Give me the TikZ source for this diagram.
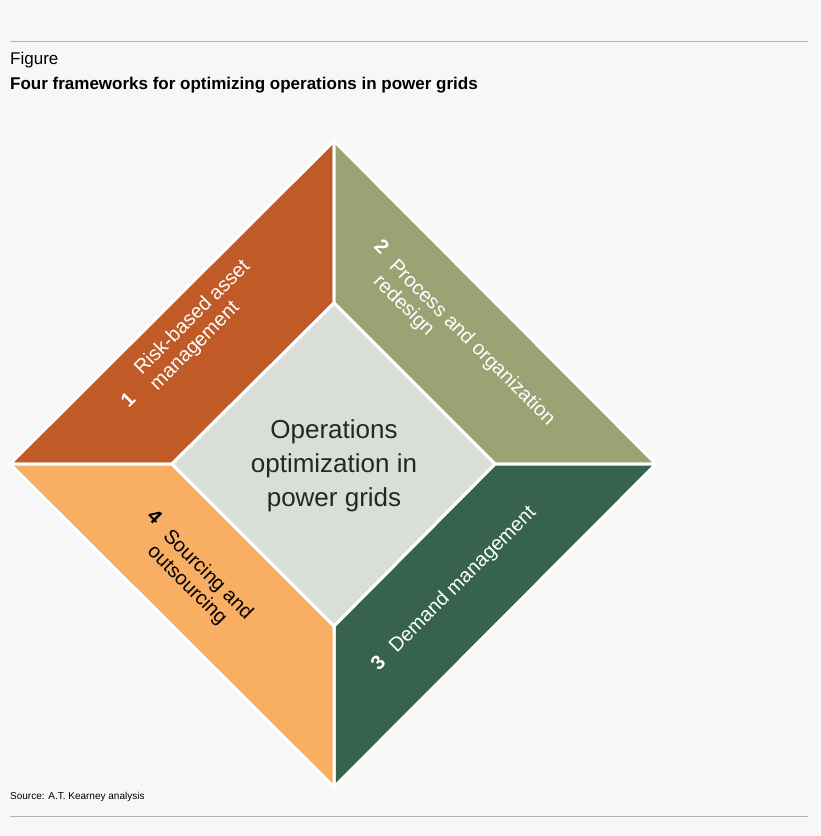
\documentclass[tikz,border=0pt]{standalone}
\usepackage{fontspec}
\setmainfont{Liberation Sans}
\begin{document}
\begin{tikzpicture}[x=1pt,y=-1pt,
  quad/.style={draw=white,line width=3pt,line join=miter},
  lab/.style={text=white,font=\fontsize{20}{22}\selectfont,align=left,inner sep=0pt},
  num/.style={text=white,font=\fontsize{20}{22}\selectfont\bfseries,inner sep=0pt}]
\definecolor{bg}{HTML}{F7F7F7}
\definecolor{qa}{HTML}{C05A26}
\definecolor{qb}{HTML}{9DA274}
\definecolor{qc}{HTML}{36624E}
\definecolor{qd}{HTML}{F9AF63}
\definecolor{qm}{HTML}{D9DFD7}
\fill[bg] (0,0) rectangle (820,836);
\useasboundingbox (0,0) rectangle (820,836);
\draw[gray!60,line width=0.8pt] (10,41) -- (808,41);
\draw[gray!60,line width=0.8pt] (10,816) -- (808,816);
\node[anchor=west,inner sep=0pt,font=\fontsize{17}{19}\selectfont] (fig) at (10,60) {Figure};
\node[anchor=west,inner sep=0pt,font=\fontsize{17}{19}\selectfont\bfseries] (title) at (10,85) {Four frameworks for optimizing operations in power grids};
\node[anchor=west,inner sep=0pt,font=\fontsize{10}{11}\selectfont] (src) at (10,797) {Source: A.T. Kearney analysis};
% quadrants
\fill[qa] (334,141) -- (334,303) -- (172,464) -- (10,464) -- cycle;
\draw[quad] (334,141) -- (334,303) -- (172,464) -- (10,464) -- cycle;
\fill[qb] (334,141) -- (656,464) -- (495,464) -- (334,303) -- cycle;
\draw[quad] (334,141) -- (656,464) -- (495,464) -- (334,303) -- cycle;
\fill[qc] (656,464) -- (334,787) -- (334,626) -- (495,464) -- cycle;
\draw[quad] (656,464) -- (334,787) -- (334,626) -- (495,464) -- cycle;
\fill[qd] (334,787) -- (10,464) -- (172,464) -- (334,626) -- cycle;
\draw[quad] (334,787) -- (10,464) -- (172,464) -- (334,626) -- cycle;
\fill[qm] (334,303) -- (495,464) -- (334,626) -- (172,464) -- cycle;
\draw[quad] (334,303) -- (495,464) -- (334,626) -- (172,464) -- cycle;
\node[align=center,font=\fontsize{26}{34}\selectfont,text=black!85] (center) at (334,466) {Operations\\optimization in\\power grids};
% labels
\node[num,rotate=45] (n1) at (128,400) {1};
\node[lab,rotate=45,anchor=west] (t1) at (146,380) {Risk-based asset\\management};
\node[num,rotate=-45] (n2) at (382,246) {2};
\node[lab,rotate=-45,anchor=west] (t2) at (384,271) {Process and organization\\redesign};
\node[num,rotate=45] (n3) at (378,663) {3};
\node[lab,rotate=45,anchor=west] (t3) at (393,650) {Demand management};
\node[num,rotate=-45,text=black] (n4) at (155,517) {4};
\node[lab,rotate=-45,anchor=west,text=black] (t4) at (158,541) {Sourcing and\\outsourcing};
\end{tikzpicture}
\end{document}
